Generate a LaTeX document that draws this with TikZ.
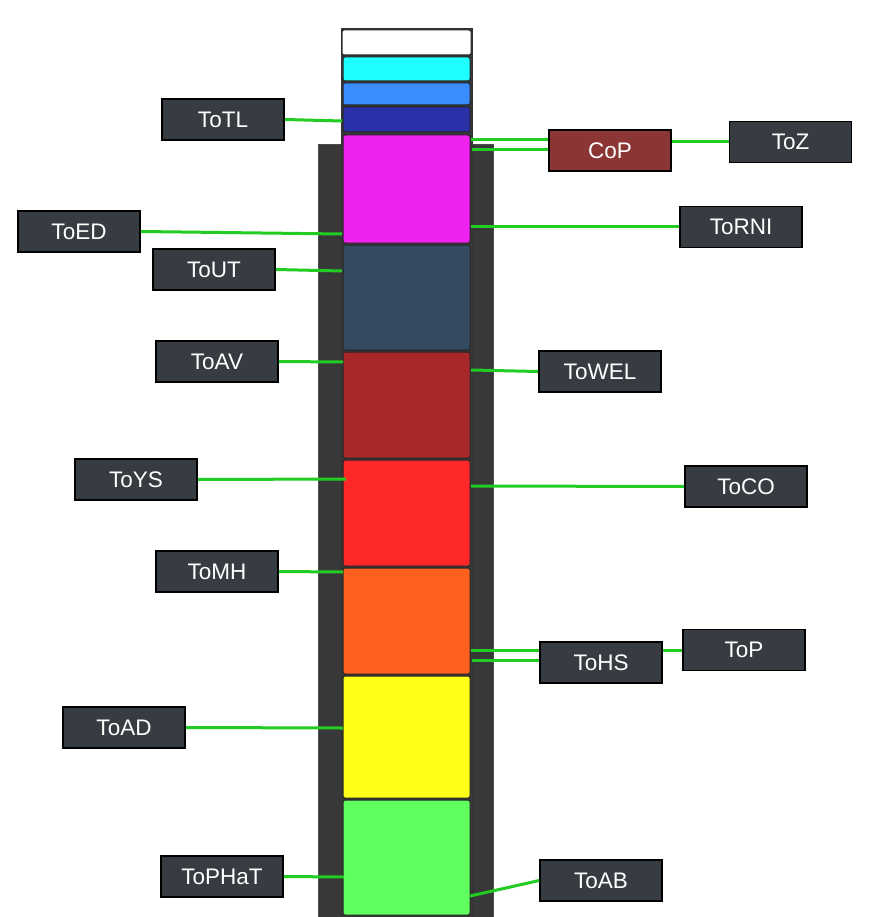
\documentclass[tikz,border=0pt]{standalone}
\usepackage{fontspec}
\setmainfont{Liberation Sans}
\definecolor{boxfill}{HTML}{373B42}
\definecolor{copfill}{HTML}{8B3535}
\definecolor{colbg}{HTML}{383838}
\definecolor{lnk}{HTML}{22CC22}
\definecolor{sWhite}{HTML}{FFFFFF}
\definecolor{sCyan}{HTML}{1EFFFF}
\definecolor{sBlue}{HTML}{3A8CFF}
\definecolor{sNavy}{HTML}{2A30A8}
\definecolor{sMag}{HTML}{F022F0}
\definecolor{sSlate}{HTML}{344A5F}
\definecolor{sBrown}{HTML}{A8282A}
\definecolor{sRed}{HTML}{FF2828}
\definecolor{sOrange}{HTML}{FF6020}
\definecolor{sYellow}{HTML}{FFFF18}
\definecolor{sGreen}{HTML}{60FF60}
\begin{document}
\begin{tikzpicture}[x=1pt,y=-1pt,
  lbl/.style={draw=black,line width=1.6pt,fill=boxfill,text=white,minimum width=122pt,minimum height=41pt,inner sep=0pt,font=\fontsize{22.5}{26}\selectfont},
  coplbl/.style={lbl,fill=copfill,line width=2.4pt},
  seg/.style={draw=black!85,line width=1pt,rounded corners=2pt},
  link/.style={draw=lnk,line width=3pt}]
\useasboundingbox[fill=white] (0,0) rectangle (868,917);
% column background
\fill[colbg,draw=black!70,line width=1pt] (318,145) rectangle (493,920);
\fill[colbg,draw=black!80,line width=1pt] (341,29) rectangle (472,920);
% segments
\filldraw[seg,fill=sWhite] (342,30) rectangle (471,55);
\filldraw[seg,fill=sCyan] (343,57) rectangle (470,81);
\filldraw[seg,fill=sBlue] (343,83) rectangle (470,105);
\filldraw[seg,fill=sNavy] (343,107) rectangle (470,132);
\filldraw[seg,fill=sMag] (343,135) rectangle (470,243);
\filldraw[seg,fill=sSlate] (343,245) rectangle (470,350);
\filldraw[seg,fill=sBrown] (343,352) rectangle (470,458);
\filldraw[seg,fill=sRed] (343,460) rectangle (470,566);
\filldraw[seg,fill=sOrange] (343,568) rectangle (470,674);
\filldraw[seg,fill=sYellow] (343,676) rectangle (470,798);
\filldraw[seg,fill=sGreen] (343,800) rectangle (470,915);
% left labels
\node[lbl] (totl) at (223,119.5) {ToTL};
\node[lbl] (toed) at (79,231.5) {ToED};
\node[lbl] (tout) at (214,269.5) {ToUT};
\node[lbl] (toav) at (217,361.5) {ToAV};
\node[lbl] (toys) at (136,479.5) {ToYS};
\node[lbl] (tomh) at (217,571.5) {ToMH};
\node[lbl] (toad) at (124,727.5) {ToAD};
\node[lbl] (tophat) at (222,876.5) {ToPHaT};
% right labels
\node[coplbl] (cop) at (610,150.5) {CoP};
\node[lbl] (toz) at (790.5,142) {ToZ};
\node[lbl] (tornni) at (741,227) {ToRNI};
\node[lbl] (towel) at (600,371.5) {ToWEL};
\node[lbl] (toco) at (746,486.5) {ToCO};
\node[lbl] (tohs) at (601,662.5) {ToHS};
\node[lbl] (top) at (744,650) {ToP};
\node[lbl] (toab) at (601,880.5) {ToAB};
% anchor points on column
\coordinate (ctl) at (342,121);
\coordinate (ced) at (342,234);
\coordinate (cut) at (342,271);
\coordinate (cav) at (343,362);
\coordinate (cys) at (346,479);
\coordinate (cmh) at (343,572);
\coordinate (cad) at (343,728);
\coordinate (cph) at (344,877);
\coordinate (ccopa) at (471,140);
\coordinate (ccopb) at (472,150);
\coordinate (crni) at (471,227);
\coordinate (cwel) at (471,370);
\coordinate (cco) at (471,486);
\coordinate (chsa) at (471,650);
\coordinate (chsb) at (472,660);
\coordinate (cab) at (470,896);
% connectors
\draw[link] (totl.east) -- (ctl);
\draw[link] (toed.east) -- (ced);
\draw[link] (tout.east) -- (cut);
\draw[link] (toav.east) -- (cav);
\draw[link] (toys.east) -- (cys);
\draw[link] (tomh.east) -- (cmh);
\draw[link] (toad.east) -- (cad);
\draw[link] (tophat.east) -- (cph);
\draw[link] (ccopa) -- (cop.west |- ccopa);
\draw[link] (ccopb) -- (cop.west |- ccopb);
\draw[link] (cop.east |- toz.west) -- (toz.west);
\draw[link] (crni) -- (tornni.west);
\draw[link] (cwel) -- (towel.west);
\draw[link] (cco) -- (toco.west);
\draw[link] (chsa) -- (tohs.west |- chsa);
\draw[link] (chsb) -- (tohs.west |- chsb);
\draw[link] (tohs.east |- top.west) -- (top.west);
\draw[link] (cab) -- (toab.west);
\end{tikzpicture}
\end{document}
